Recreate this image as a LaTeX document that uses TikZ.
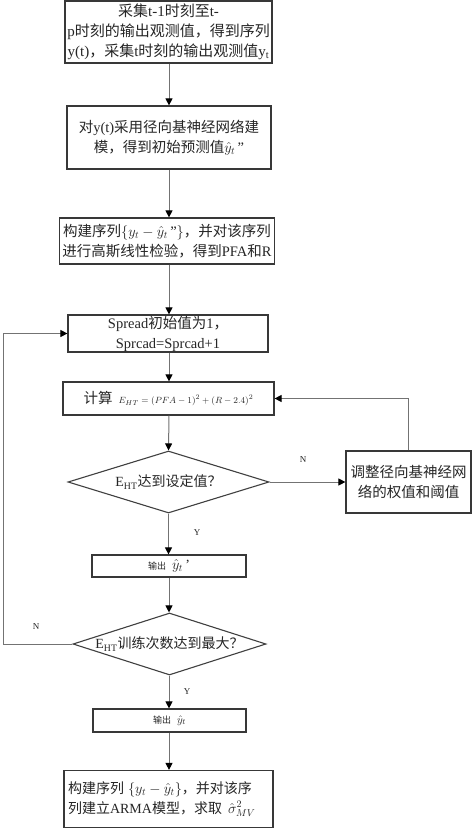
\documentclass[tikz,border=0pt]{standalone}
\usepackage{fontspec}
\setmainfont{Liberation Serif}
\newfontfamily\cjk{Noto Sans CJK SC}
\usetikzlibrary{shapes.geometric,arrows.meta,calc}
\newcommand{\zh}[1]{{\cjk #1}}
\newcommand{\dq}{{\char34}}
\newcommand{\sq}{{\char39}}
\begin{document}
\begin{tikzpicture}[x=1pt,y=-1pt,
 box/.style={draw=black!78,line width=1.2pt,rectangle,inner sep=0pt,align=center,text=black!85,font=\fontsize{14.5}{20}\selectfont},
 dia/.style={draw=black!75,line width=1.1pt,diamond,inner sep=0pt,text=black!85,font=\fontsize{14}{18}\selectfont},
 conn/.style={draw=black!55,line width=1pt,-{Triangle[length=7pt,width=7pt,color=black]}},
 lab/.style={font=\fontsize{9}{10}\selectfont,text=black!85}]
\useasboundingbox (0,0) rectangle (474,829);
\fill[white] (0,0) rectangle (474,829);
\coordinate (sp) at (169,0);
\coordinate (lp) at (3,0);
% boxes
\node[box,font=\fontsize{15}{20}\selectfont,minimum width=207pt,minimum height=62pt] (b1) at (168.5,32)
 {\zh{采集}t-1\zh{时刻至}t-\\p\zh{时刻的输出观测值，得到序列}\\y(t)\zh{，采集}t\zh{时刻的输出观测值}y\textsubscript{t}};
\node[box,minimum width=204pt,minimum height=63pt] (b2) at (169,137.5)
 {\zh{对}y(t)\zh{采用径向基神经网络建}\\\zh{模，得到初始预测值}$\hat{y}_t$\,\dq};
\node[box,minimum width=215pt,minimum height=46pt] (b3) at (167,241)
 {\zh{构建序列}$\{y_t-\hat{y}_t$\,\dq$\}$\zh{，并对该序列}\\\zh{进行高斯线性检验，得到}PFA\zh{和}R};
\node[box,minimum width=200pt,minimum height=37pt] (spread) at (168,333.5)
 {Spread\zh{初始值为}1\zh{，}\\Sprcad=Sprcad+1};
\node[box,minimum width=211pt,minimum height=33pt] (calc) at (168.5,398.5)
 {\zh{计算}\hspace{6pt}{\fontsize{9.5}{11}\selectfont$E_{HT}=(PFA-1)^2+(R-2.4)^2$}};
\node[dia,minimum width=201pt,minimum height=62pt] (d1) at (168.5,482)
 {\makebox[0pt]{E\textsubscript{HT}\zh{达到设定值？}}};
\node[box,minimum width=125pt,minimum height=62pt] (rb) at (408.5,482)
 {\zh{调整径向基神经网}\\\zh{络的权值和阈值}};
\node[box,minimum width=154pt,minimum height=22pt] (o1) at (169,566)
 {{\fontsize{9}{10}\selectfont\zh{输出}}\hspace{6pt}{\fontsize{14}{16}\selectfont$\hat{y}_t$\,\sq}};
\node[dia,minimum width=193pt,minimum height=62pt] (d2) at (169.5,644)
 {\makebox[0pt]{E\textsubscript{HT}\zh{训练次数达到最大？}}};
\node[box,minimum width=153pt,minimum height=23pt] (o2) at (169.5,720.5)
 {{\fontsize{9}{10}\selectfont\zh{输出}}\hspace{6pt}{\fontsize{11}{12}\selectfont$\hat{y}_t$}};
\node[box,font=\fontsize{14}{20}\selectfont,text width=201pt,inner xsep=4pt,minimum height=57pt,align=left] (fin) at (168.5,799)
 {\zh{构建序列}\hspace{4pt}$\{y_t-\hat{y}_t\}$\zh{，并对该序}\\\zh{列建立}ARMA\zh{模型，求取}\hspace{6pt}$\hat{\sigma}^2_{MV}$};
% connectors
\draw[conn] (b1.south -| sp) -- (b2.north -| sp);
\draw[conn] (b2.south -| sp) -- (b3.north -| sp);
\draw[conn] (b3.south -| sp) -- (spread.north -| sp);
\draw[conn] (spread.south -| sp) -- (calc.north -| sp);
\draw[conn] (calc.south -| sp) -- (d1.north);
\draw[conn] (d1.south) -- (o1.north -| d1.south);
\draw[conn] (o1.south -| sp) -- (d2.north -| sp);
\draw[conn] (d2.south -| sp) -- (o2.north -| sp);
\draw[conn] (o2.south -| sp) -- (fin.north -| sp);
\draw[conn] (d1.east) -- (rb.west);
\draw[conn] (rb.north) |- (calc.east);
\draw[conn] (d2.west) -- (d2.west -| lp) |- (spread.west);
% labels
\node[lab] (n1) at (303,460) {N};
\node[lab] (y1) at (197,533) {Y};
\node[lab] (n2) at (36,627) {N};
\node[lab] (y2) at (187,692) {Y};
\end{tikzpicture}
\end{document}
